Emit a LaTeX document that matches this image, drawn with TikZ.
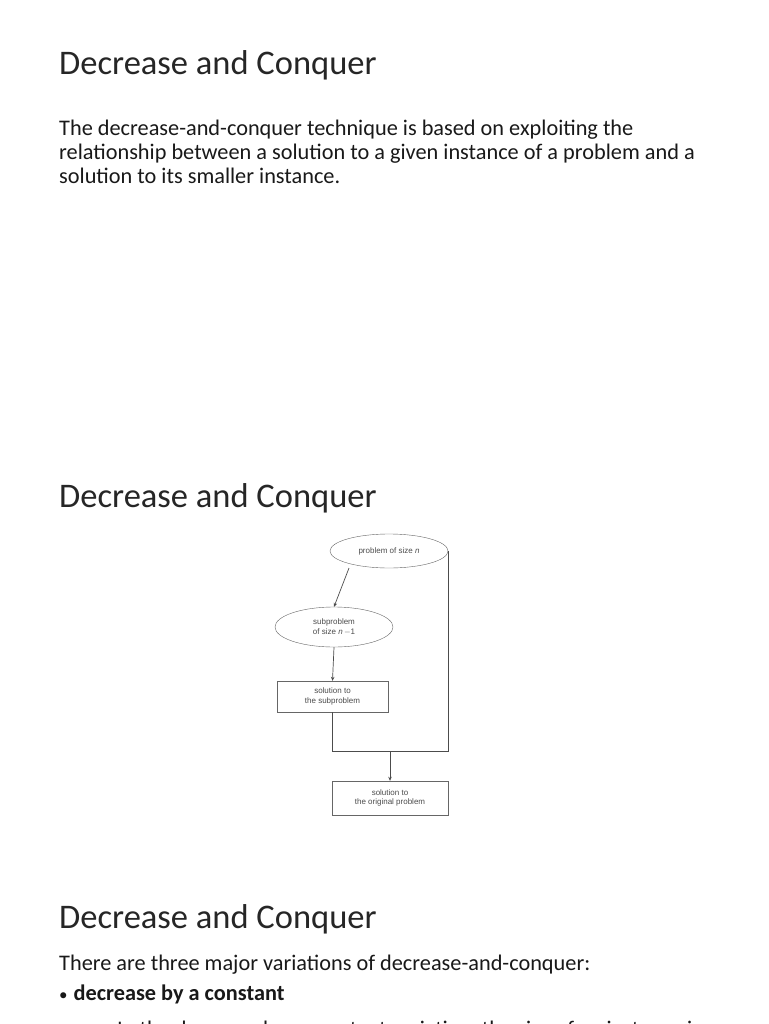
\documentclass[tikz,border=0pt]{standalone}
\usepackage{fontspec}
\setmainfont{Carlito}
\newfontfamily\diagfont{Liberation Sans}
\usetikzlibrary{shapes.geometric,arrows.meta}
\begin{document}
\begin{tikzpicture}[x=1pt,y=-1pt,
  title/.style={anchor=base west,inner sep=0,font=\fontsize{34.5}{40}\selectfont,text=black!85},
  body/.style={anchor=base west,inner sep=0,font=\fontsize{22.3}{24}\selectfont,align=left,text=black!90},
  ell/.style={draw=black!60,ellipse,minimum width=118,minimum height=34,inner sep=0,font=\diagfont\fontsize{8}{9.5}\selectfont,align=center,text=black!70},
  box/.style={draw=black!60,rectangle,inner sep=0,font=\diagfont\fontsize{8}{9.5}\selectfont,align=center,text=black!70},
  conn/.style={draw=black!70,line width=0.7},
  arr/.style={conn,-{Stealth[length=4,width=3.5]}}]
\useasboundingbox[fill=white] (0,0) rectangle (768,1024);
\node[title] (t1) at (59,75) {Decrease and Conquer};
\node[body] (b1) at (59,136) {The decrease-and-conquer technique is based on exploiting the};
\node[body] (b2) at (59,160) {relationship between a solution to a given instance of a problem and a};
\node[body] (b3) at (59,184) {solution to its smaller instance.};
\node[title] (t2) at (59,507) {Decrease and Conquer};
\node[ell] (e1) at (389,551) {problem of size \textit{n}};
\node[ell,minimum height=40] (e2) at (334,627) {subproblem\\of size \textit{n}\,$-$1};
\node[box,minimum width=111,minimum height=31] (r1) at (332.5,696.5) {solution to\\the subproblem};
\node[box,minimum width=116,minimum height=34] (r2) at (390,798) {solution to\\the original problem};
\coordinate (j) at (390,751);
\draw[arr] (349,568) -- (e2.north);
\draw[arr] (e2.south) -- (r1.north);
\draw[conn] (e1.east) |- (j);
\draw[conn] (r1.south) |- (j);
\draw[arr] (j) -- (r2.north);
\node[title] (t3) at (59,928) {Decrease and Conquer};
\node[body] (b4) at (59,970) {There are three major variations of decrease-and-conquer:};
\node[body] (b5) at (59,1000) {{\fontsize{17}{20}\selectfont•}\hspace{6pt}\textbf{decrease by a constant}};
\node[body] (b6) at (117,1036) {In the decrease-by-a-constant variation, the size of an instance is};
\end{tikzpicture}
\end{document}
